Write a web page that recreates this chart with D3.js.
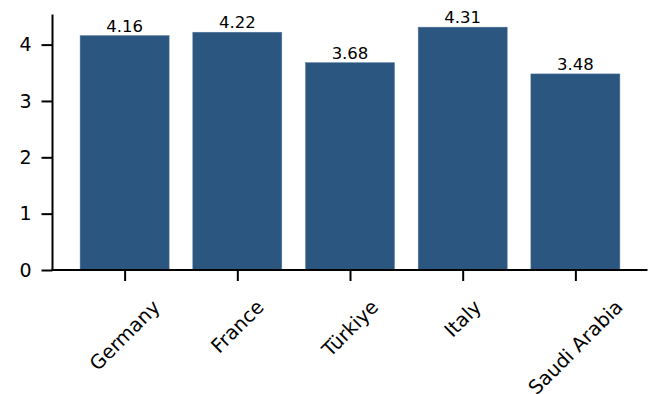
<!DOCTYPE html>
<html><head><meta charset="utf-8">
<script src="https://cdn.jsdelivr.net/npm/d3@7"></script>
<style>body{margin:0;background:#fff}svg{display:block}text{font-family:"DejaVu Sans",sans-serif;fill:#000}</style>
</head><body>
<svg id="c" width="654" height="394"></svg>
<script>
const categories = ["Germany", "France", "Türkiye", "Italy", "Saudi Arabia"];
const values = [4.16, 4.22, 3.68, 4.31, 3.48];
const valueLabels = ["4.16", "4.22", "3.68", "4.31", "3.48"];
const yTicks = [0, 1, 2, 3, 4];

(function () {
const svg = d3.select("#c");
const mL = 52.5, mR = 647.5, mT = 14.5, mB = 270;
const n = categories.length;
const x = d3.scaleLinear().domain([-0.64, n - 1 + 0.64]).range([mL, mR]);
const y = d3.scaleLinear().domain([0, 4.5255]).range([mB, mT + 0.5]);
const barW = x(0.79) - x(0);
const color = "#2b5680";

svg.selectAll("rect.bar").data(values).join("rect")
  .attr("class", "bar")
  .attr("x", (d, i) => x(i) - barW / 2)
  .attr("width", barW)
  .attr("y", d => y(d))
  .attr("height", d => y(0) - y(d))
  .attr("fill", color)
  .attr("stroke", "#5a7da3").attr("stroke-width", 0.5);

svg.selectAll("text.val").data(values).join("text")
  .attr("class", "val")
  .attr("x", (d, i) => x(i))
  .attr("y", d => y(d) - 4)
  .attr("text-anchor", "middle")
  .attr("font-size", 16.5)
  .text((d, i) => valueLabels[i]);

const yAxis = d3.axisLeft(y).tickValues(yTicks).tickSize(11).tickPadding(10).tickFormat(d3.format("d"));
const gy = svg.append("g").attr("transform", `translate(${mL},0)`).call(yAxis);
gy.select(".domain").attr("d", `M0,${mT}V${mB}`).attr("stroke-width", 2);
gy.selectAll(".tick line").attr("stroke-width", 2);
gy.selectAll(".tick text").attr("font-size", 19).attr("font-family", "DejaVu Sans").attr("fill", "#000");

const xAxis = d3.axisBottom(x).tickValues(d3.range(n)).tickSize(11).tickFormat(() => "");
const gx = svg.append("g").attr("transform", `translate(0,${mB})`).call(xAxis);
gx.select(".domain").attr("d", `M${mL - 1},0H${mR}`).attr("stroke-width", 2);
gx.selectAll(".tick line").attr("stroke-width", 2);

const fs = 19.5;
categories.forEach((c, i) => {
  const t = svg.append("text").attr("font-size", fs).attr("text-anchor", "middle").attr("dy", "0.35em").text(c);
  const w = t.node().getComputedTextLength();
  const inkTop = 298;
  const cy = inkTop + Math.SQRT1_2 * (w / 2 + 0.4 * fs);
  t.attr("transform", `translate(${x(i)},${cy}) rotate(-45)`);
});
})();
</script>
</body></html>
